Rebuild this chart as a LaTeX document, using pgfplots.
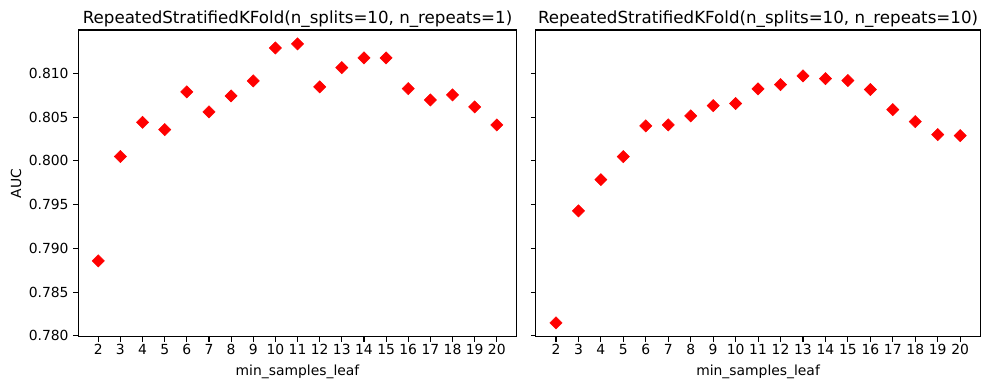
\documentclass[border=0pt]{standalone}
\usepackage{pgfplots}
\pgfplotsset{compat=1.18}
\usepackage{fontspec}
\setmainfont{DejaVu Sans}
\pgfplotstableread{
x y
2 0.78857
3 0.80050
4 0.80441
5 0.80358
6 0.80789
7 0.80560
8 0.80743
9 0.80914
10 0.81291
11 0.81337
12 0.80846
13 0.81066
14 0.81177
15 0.81177
16 0.80826
17 0.80697
18 0.80754
19 0.80617
20 0.80411
}\left
\pgfplotstableread{
x y
2 0.78149
3 0.79429
4 0.79786
5 0.80049
6 0.80400
7 0.80411
8 0.80514
9 0.80632
10 0.80655
11 0.80823
12 0.80872
13 0.80971
14 0.80940
15 0.80918
16 0.80815
17 0.80586
18 0.80449
19 0.80301
20 0.80289
}\right
\begin{document}
\begin{tikzpicture}
\pgfplotsset{
  mystyle/.style={
    scale only axis,
    height=220.8pt,
    anchor=north west,
    xmin=1.1, xmax=20.9,
    ymin=0.77991, ymax=0.81496,
    xtick={2,...,20},
    ytick={0.780,0.785,0.790,0.795,0.800,0.805,0.810},
    tick align=outside,
    xtick pos=bottom, ytick pos=left,
    major tick length=3.5pt,
    tick style={black, line width=0.8pt},
    axis line style={line width=0.8pt},
    /pgf/number format/assume math mode=true,
    tick label style={font=\fontsize{10}{12}\selectfont},
    xticklabel style={anchor=base, yshift=-9.5pt},
    label style={font=\fontsize{10}{12}\selectfont},
    xlabel style={at={(axis description cs:0.5,0)}, anchor=base, yshift=-27.6pt},
    title style={font=\fontsize{12}{14}\selectfont, at={(axis description cs:0.5,1)}, anchor=base, yshift=-1.0pt},
    xlabel={min\_samples\_leaf},
    clip=false,
  },
  mymark/.style={only marks, mark=square*, mark size=3.1pt, color=red, mark options={rotate=45, fill=red, draw=red}},
}
\begin{axis}[mystyle, at={(56.4pt,259.2pt)}, width=315.6pt,
  title={RepeatedStratifiedKFold(n\_splits=10, n\_repeats=1)},
  ylabel={AUC},
  ylabel style={at={(axis description cs:-0.1423,0.5)}, anchor=center},
  yticklabels={0.780,0.785,0.790,0.795,0.800,0.805,0.810},
]
\addplot[mymark] table[x=x,y=y] {\left};
\end{axis}
\begin{axis}[mystyle, at={(385.7pt,259.2pt)}, width=320.1pt,
  title={RepeatedStratifiedKFold(n\_splits=10, n\_repeats=10)},
  yticklabels={},
]
\addplot[mymark] table[x=x,y=y] {\right};
\end{axis}
\pgfresetboundingbox
\path[use as bounding box] (0,0) rectangle (712pt,280.8pt);
\end{tikzpicture}
\end{document}
